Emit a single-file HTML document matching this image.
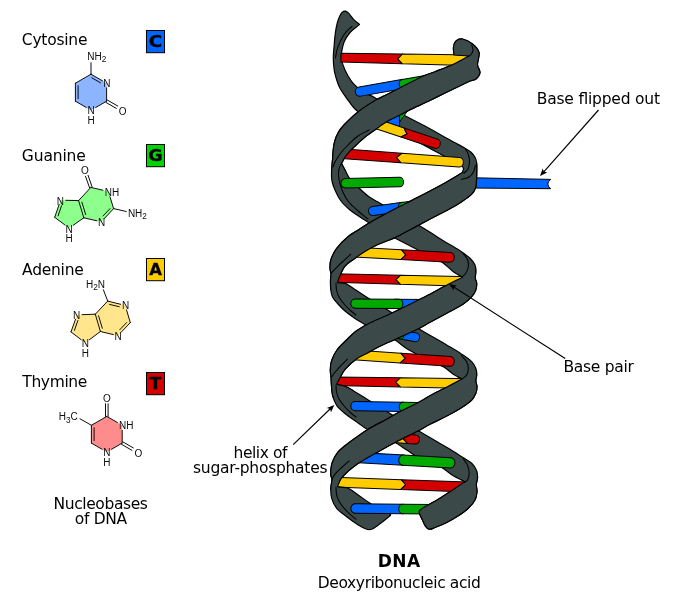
<!DOCTYPE html>
<html><head><meta charset="utf-8"><title>DNA</title><style>html,body{margin:0;padding:0;background:#fff}svg{display:block}</style></head><body>
<div style="will-change:transform;width:683px;height:599px">
<svg width="683" height="599" viewBox="0 0 683 599">
<defs>
<clipPath id="cA"><polygon points="320,0 500,0 500,100 345,172 320,172"/><polygon points="490,262 466,272 455,276 400,300 360,322 330,350 320,355 320,398 345,398 400,350 490,310"/><polygon points="490,470 465,477 440,492 410,505 410,540 490,540"/></clipPath>
<clipPath id="cB"><polygon points="490,155 478,160 465,170 455,172 400,198 350,230 320,255 320,290 345,290 356,268 400,241 440,218 490,200"/><polygon points="490,365 468,373 455,378 400,405 350,434 320,455 320,490 343,490 350,478 400,445 440,424 490,408"/></clipPath>
<path id="sA" d="M469 56C463.2 59 457.6 62.3 451.7 65C446.3 67.5 440.6 69.5 435 71.7C430.6 73.4 426 74.7 421.7 76.7C415.2 79.7 408.9 83.2 402.5 86.5C397.7 89 392.8 91.5 388 94C383.7 96.2 379.2 98 375 100.5C369.3 103.9 363.5 107.6 358.3 111.7C353.2 115.7 348.5 120.3 344 125C341.7 127.4 339.6 130.1 338 133C336.4 135.8 335.3 138.9 334.5 142C333.6 145.2 333.4 148.7 333 152C332.7 154.3 332.8 156.7 332.6 159C332.4 161 332.1 163 332 165C331.8 168.3 331.5 171.7 331.5 175C331.5 177.3 331.7 179.7 332.2 182C332.8 184.7 333.8 187.4 335 190C336.7 193.8 338.5 197.7 341 201C343.5 204.4 346.8 207.3 350 210C353.1 212.6 356.6 214.7 360 217C362.3 218.6 364.7 220 367 221.5C371.3 224.3 375.6 227.3 380 230C384.3 232.6 388.8 234.9 393.3 237.3C396.8 239.2 400.4 241 404 242.8C408.7 245.2 413.4 247.6 418 250C422 252.1 425.9 254.4 430 256.5C434.1 258.6 438.7 260 442.5 262.5C446.4 265.1 449.5 268.9 453.3 271.7C455.9 273.6 459 274.9 461.7 276.7C462 276.9 462.1 277.2 462.3 277.5C457.6 279.7 452.9 281.8 448.3 284.2C442.1 287.4 436.1 291 430 294.2C426.1 296.2 422.2 298.1 418.3 300C412.8 302.8 407.3 305.6 401.7 308.3C396.7 310.7 391.7 313.2 386.7 315.5C382.8 317.3 378.9 318.7 375 320.5C372 321.9 368.9 323.3 366 325C362.2 327.2 358.4 329.4 355 332C351.9 334.4 349.3 337.2 346.5 340C343.3 343.2 339.6 346.3 337 350C334.6 353.3 332.8 357.2 331.5 361C330.6 363.8 330.4 367 330.3 370C330.2 372.3 330.8 374.7 331 377C331.2 379.1 331.1 381.2 331.3 383.3C331.6 387.2 331.6 391.2 332.5 395C333.4 398.6 334.6 402.4 336.7 405.5C338.8 408.6 342 411.1 345 413.5C348.5 416.4 352.3 418.9 356 421.5C360.1 424.4 364.1 427.3 368.3 430C372.1 432.5 375.9 435.1 380 437C384.8 439.2 390.2 440.2 395 442.5C399.1 444.5 402.8 447.5 406.7 450C410.6 452.5 414.3 455.3 418.3 457.5C422 459.5 426.1 460.8 430 462.5C433.9 464.2 438 465.4 441.7 467.5C445.8 469.8 449.3 473.3 453.3 475.8C456.5 477.7 460 479.1 463.3 480.8C463.9 481.1 464.4 481.4 465 481.7C463.3 482.8 461.7 483.9 460 485C456.7 487.2 453.4 489.5 450 491.7C446.1 494.2 442.3 496.8 438.3 499.2C434.5 501.5 430.5 503.5 426.7 505.8C424.4 507.1 421.9 508.3 420 510C419.4 510.6 419 511.7 419.2 512.5C419.8 515 421.3 517.5 422.5 520C423.5 522.3 424.4 524.7 425.8 526.7C426.6 527.8 427.9 529.1 429.2 529.2C431 529.4 433.1 528.2 435 527.5C439 526 442.9 524.4 446.7 522.5C450.7 520.5 454.6 518.2 458.3 515.8C461.8 513.5 465.3 511.1 468.3 508.3C470.9 505.9 473.4 503.1 475 500C476.3 497.5 476.8 494.5 477 491.7C477.2 489.2 476.2 486.7 476.3 484.2C476.4 482.2 477.4 480.3 477.5 478.3C477.6 475.8 477.6 473.1 476.7 470.8C475.6 468.1 473.8 465.3 471.7 463.3C468.8 460.6 465.1 458.9 461.7 456.7C457.3 453.9 452.8 451 448.3 448.3C443.9 445.6 439.4 443.1 435 440.5C429.4 437.3 423.8 434.1 418.3 430.8C407.7 424.4 397.2 418 386.7 411.5C380 407.4 373.4 403.1 366.7 399C360.1 394.9 353.5 390.7 346.7 387C345 386.1 342.9 385.7 341 385.2C339.6 384.8 338.1 384.5 336.7 384.2C337.5 382.5 338.3 380.8 339.2 379.2C341.1 375.9 342.5 372.2 345 369.3C348.4 365.4 352.5 361.9 356.7 358.8C359.7 356.6 363.4 355.3 366.7 353.5C370.6 351.4 374.3 349 378.3 347C383.8 344.3 389.4 342 395 339.5C402.8 336 410.6 332.6 418.3 328.8C422.3 326.8 426.1 324.4 430 322.3C435.6 319.3 441.2 316.3 446.7 313.3C452.3 310.2 458 307.5 463.3 304C466.4 302 469.3 299.4 471.7 296.7C473.4 294.8 474.9 292.4 475.8 290C476.6 287.9 476.8 285.5 476.7 283.3C476.6 281.6 475.4 280 475.3 278.3C475.1 276.1 475.8 273.9 475.8 271.7C475.7 269.5 475.9 267 475 265C473.9 262.5 472 260.2 470 258.3C467 255.5 463.5 253.1 460 250.8C454.6 247.2 448.8 244.2 443.3 240.8C439.4 238.4 435.6 235.8 431.7 233.3C427.3 230.5 422.8 227.7 418.3 225C411.6 221.1 404.8 217.3 398 213.5C393.3 210.8 388.7 208.2 384 205.5C381.7 204.2 379.3 202.9 377 201.5C374 199.7 370.8 198.1 368 196C364.8 193.6 361.9 190.8 359 188C355.9 185.1 352.6 182.3 350 179C347.9 176.3 346.7 173 345 170C343.8 167.8 342.7 165.7 341.5 163.5C342.7 161.3 343.6 159 345 157C346.5 154.9 348.3 152.9 350 151C351.3 149.6 352.6 148.3 354 147C357.6 143.6 361.1 140.1 365 137C369.5 133.4 374.3 130.3 379 127C382.1 124.9 385.1 122.6 388.3 120.8C392.1 118.6 396.1 117 400 115C403.9 113 407.7 110.8 411.7 108.9C417.2 106.2 422.8 103.8 428.3 101.2C433.9 98.5 439.4 95.7 445 93C450.6 90.3 456.1 87.7 461.7 85C464.5 83.7 467.2 82.2 470 81C471.9 80.2 474.5 80.3 476 79C477.8 77.5 479.8 74.8 480 72.5C480.3 70.1 477.6 67.6 477.5 65C477.3 60.9 479.9 56.3 479 52.5C478.2 49.3 475.2 46.2 472.5 44C469.7 41.7 465.9 39.6 462.5 39C460.4 38.6 457.5 39.6 456 41C454.5 42.3 453.8 44.9 453.5 47C453.1 49.6 453.8 52.3 454 55L469 56Z"/>
<path id="sB" d="M359.5 24.5C357.5 22.8 355.3 21.2 353.5 19.3C351.9 17.6 350.8 15.5 349.2 13.8C348.2 12.7 346.9 11.4 345.6 11.1C344.6 10.9 343 11.5 342.2 12.3C341 13.3 340.3 15 339.6 16.5C338.7 18.4 337.9 20.4 337.4 22.5C336.5 26 335.8 29.7 335.3 33.3C334.7 37.2 334.5 41.1 334.2 45C333.8 49.4 333.3 53.9 333.3 58.3C333.3 62.2 333.6 66.1 334.2 70C334.7 73.4 335.7 76.7 336.7 80C337.6 82.8 338.6 85.7 340 88.3C341.9 91.8 344.3 95.1 346.7 98.3C349.7 102.3 352.2 106.8 356 110C361.7 114.7 368.5 118.4 375 122C380.5 125 386.3 127.5 392 130C396.8 132.1 401.9 133.7 406.7 136C413.5 139.3 420 143.1 426.7 146.7C430 148.5 433.4 150.2 436.7 152C441.8 154.8 446.9 157.7 452 160.5C455 162.1 458.3 163.1 461 165C462.1 165.8 463.2 167.2 463.5 168.5C463.7 169.7 462.8 171.2 462.5 172.5C457.2 175.7 452 179 446.7 182C441.2 185.1 435.6 188.1 430 191C424.5 193.9 418.9 196.8 413.3 199.6C408.9 201.9 404.4 204 400 206.3C395.6 208.6 391.1 210.8 386.7 213.2C381.7 215.9 376.6 218.6 371.7 221.5C367.1 224.2 362.8 227.1 358.3 230C355 232.1 351.3 233.9 348.3 236.5C344.1 240 340 243.9 336.7 248.3C334.1 251.8 332.2 255.9 330.8 260C329.9 262.6 330 265.5 330 268.3C330 270.2 330.9 272.1 331 274C331.1 276 330.5 278 330.5 280C330.5 283.3 330.4 286.7 330.8 290C331.1 292.4 331.4 294.9 332.5 297C333.8 299.6 336 301.8 338 304C340.2 306.5 342.5 308.9 345 311C348.2 313.7 351.5 316.2 355 318.5C358.5 320.9 362.3 322.9 366 325C370.6 327.7 375.2 330.5 380 333C384.9 335.5 390.3 337.2 395 340C398.6 342.1 401.5 345.2 405 347.5C408.8 350 412.7 352.1 416.7 354.2C421.1 356.6 425.5 358.9 430 361C434.4 363.1 439.1 364.3 443.3 366.7C446.9 368.7 449.8 371.9 453.3 374.2C456 375.9 458.9 377.3 461.7 378.7C461.9 378.8 462.2 378.7 462.5 378.7C456.7 381.8 450.8 384.9 445 388C440 390.6 435 393.1 430 395.8C426.1 397.9 422.3 400.4 418.3 402.5C412.8 405.4 407.2 407.9 401.7 410.8C396.6 413.5 391.7 416.4 386.7 419.2C380.6 422.6 374.3 425.6 368.3 429.2C363.7 432 359.4 435.2 355 438.3C351.6 440.7 348.2 443.2 345 445.8C342.7 447.7 340.1 449.4 338.3 451.7C335.9 454.7 333.9 458.2 332.5 461.7C331.4 464.3 331.1 467.2 330.8 470C330.6 472 330.7 474 331 476C331.1 477.1 332 478.1 332 479.2C332 482.2 330.8 485.3 330.8 488.3C330.7 491.6 330.8 495.1 331.7 498.3C332.7 501.8 334.4 505.5 336.7 508.3C339.4 511.6 343.3 514 346.7 516.7C350.5 519.6 354.3 522.5 358.3 525C360.9 526.7 363.8 528.3 366.7 529.2C368.3 529.7 370.2 529.7 371.7 529.2C374.1 528.3 376.2 526.5 378.3 525C382.3 522.1 386.3 519 390 515.8C390.4 515.4 390.7 514.6 390.5 514.2C390.3 513.8 389.5 513.6 389 513.3C386 511.9 382.9 510.5 380 509C376.6 507.2 373.2 505.4 370 503.3C366 500.7 362.2 497.7 358.3 495C355 492.7 351.9 489.9 348.3 488.3C346.1 487.3 343.4 487.6 341 487.2C339.8 487 338.7 486.9 337.5 486.7C338.6 484.2 339.3 481.5 340.8 479.2C342.4 476.7 344.5 474.5 346.7 472.5C350.3 469.2 354.3 466.2 358.3 463.3C361 461.4 363.9 459.9 366.7 458.3C370.5 456.1 374.4 453.9 378.3 451.7C383.8 448.6 389.4 445.4 395 442.5C402.7 438.5 410.6 434.8 418.3 430.8C422.3 428.7 426 426.4 430 424.3C435.5 421.4 441.2 418.9 446.7 416C451.8 413.3 456.9 410.6 461.7 407.5C465.2 405.3 468.8 402.9 471.7 400C473.5 398.2 474.8 395.7 475.8 393.3C476.6 391.3 477 388.9 477 386.7C477 384.7 475.9 382.8 475.8 380.8C475.8 378.9 476.7 376.9 476.7 375C476.7 372.8 476.6 370.4 475.8 368.3C474.9 365.9 473.5 363.5 471.7 361.7C468.8 358.8 465.2 356.5 461.7 354.2C456.8 350.9 451.7 348 446.7 345C444.5 343.6 442.2 342.3 440 341C433.3 337.1 426.6 333.4 420 329.5C410 323.6 400 317.5 390 311.5C382.6 307 375.3 302.6 368 298C363.6 295.2 359.4 292.3 355 289.5C351.9 287.5 348.8 285 345.5 283.5C344.2 282.9 342.5 283.2 341 283C339.8 282.9 338.7 282.7 337.5 282.5C338.1 280.8 338.5 279.1 339.2 277.5C341 273.6 342.3 269.2 345 266C347.6 262.8 351.6 260.8 355 258.3C358.3 255.9 361.5 253.6 365 251.5C369.3 248.9 373.7 246.4 378.3 244.3C383.7 241.8 389.6 240.1 395 237.6C400.7 234.9 406.1 231.6 411.7 228.7C417.2 225.8 422.8 222.9 428.3 220C434.4 216.8 440.6 213.8 446.7 210.5C451.8 207.7 456.9 204.9 461.7 201.7C465.2 199.4 468.8 197.1 471.7 194.2C473.4 192.5 474.7 190.2 475.5 188C476.3 185.5 476.3 182.7 476.5 180C476.7 176.7 476.8 173.3 476.8 170C476.8 167.3 476.9 164.6 476.5 162C476.3 160.4 475.8 158.6 475 157.2C474 155.4 472.6 153.6 471 152.2C469.2 150.6 467.1 149.4 465 148.2C461.7 146.3 458.3 144.5 455 142.7C452.2 141.2 449.4 139.8 446.7 138.3C441.7 135.5 436.7 132.5 431.7 129.7C427.2 127.2 422.6 124.9 418 122.5C413.8 120.3 409.7 118.2 405.5 116C401 113.7 396.5 111.3 392 109C385.8 104.9 379.7 100.4 373.3 96.7C370.7 95.2 367.6 94.7 365 93.3C362.6 91.9 360.4 90.1 358.3 88.3C356 86.3 353.5 84.2 351.7 81.7C349.1 78.1 346.8 74.1 345 70C343.3 66.2 341.9 62.1 341.2 58C340.8 56 341.3 53.8 341.7 51.7C342.3 48.3 342.9 44.8 344.2 41.7C345.6 38.4 347.7 35.3 350 32.5C351.9 30.3 354.4 28.6 356.7 26.7C357.6 25.9 358.6 25.2 359.5 24.5Z"/>
</defs>
<rect width="683" height="599" fill="#fff"/>
<path d="M470 177.7L550.6 179.4Q545 184 550.6 188.7L470 188Z" fill="#0066ff" stroke="#000" stroke-width="1"/>
<g fill="#3b4a48" stroke="#000" stroke-width="1.2" stroke-linejoin="round">
<use href="#sA"/><use href="#sB"/>
</g>
<g stroke="#000" stroke-width="1" stroke-linejoin="round">
<path d="M387 127L387 121L399.6 114.5L399.6 127Z" fill="#0066ff"/><path d="M399.6 112L407.8 110.5L400.3 121L399.6 122.5Z" fill="#00aa00"/>
<g transform="translate(341 57.6) rotate(1.2)"><path d="M0 4.4 L0 -4.4L61.5 -4.9 L56.8 0 L61.5 4.9 Z" fill="#d40000"/><path d="M61.5 4.9 L56.8 0 L61.5 -4.9L134 -5.4 L134 5.4 Z" fill="#ffcc00"/></g>
<g transform="translate(355.3 92.4) rotate(-10)"><path d="M4.6 4.6 A4.6 4.6 0 0 1 4.6 -4.6L49.2 -4.6 L49.2 4.6 Z" fill="#0066ff"/><path d="M48.5 4.6 A3.9 4.6 0 0 1 48.5 -4.6L86 -4.6 L86 4.6 Z" fill="#00aa00"/></g>
<g transform="translate(370 121.6) rotate(18.5)"><path d="M0 4.8 L0 -4.8L34.3 -4.8 L39 0 L34.3 4.8 Z" fill="#ffcc00"/><path d="M34.3 4.8 L39 0 L34.3 -4.8L69.8 -4.8 A4 4.8 0 0 1 69.8 4.8 Z" fill="#d40000"/></g>
<g transform="translate(338 153.4) rotate(4.2)"><path d="M0 4.8 L0 -4.8L63.6 -4.8 L58.9 0 L63.6 4.8 Z" fill="#d40000"/><path d="M63.6 4.8 L58.9 0 L63.6 -4.8L121.6 -4.8 A4.1 4.8 0 0 1 121.6 4.8 Z" fill="#ffcc00"/></g>
<g transform="translate(340.8 183.4) rotate(-1.3)"><path d="M4.7 4.7 A4.7 4.7 0 0 1 4.7 -4.7L58.8 -4.7 A4 4.7 0 0 1 58.8 4.7 Z" fill="#00aa00"/></g>
<g transform="translate(368.5 211.6) rotate(-7.9)"><path d="M4.5 4.5 A4.5 4.5 0 0 1 4.5 -4.5L34.8 -4.5 L34.8 4.5 Z" fill="#0066ff"/><path d="M34.1 4.5 A3.8 4.5 0 0 1 34.1 -4.5L57 -4.5 L57 4.5 Z" fill="#00aa00"/></g>
<g transform="translate(350 251.9) rotate(3.1)"><path d="M0 4.9 L0 -4.9L51.2 -4.9 L55.9 0 L51.2 4.9 Z" fill="#ffcc00"/><path d="M51.2 4.9 L55.9 0 L51.2 -4.9L100.2 -4.9 A4.2 4.9 0 0 1 100.2 4.9 Z" fill="#d40000"/></g>
<g transform="translate(334 278) rotate(1.5)"><path d="M0 4.3 L0 -4.3L66.7 -4.6 L62 0 L66.7 4.6 Z" fill="#d40000"/><path d="M66.7 4.6 L62 0 L66.7 -4.6L138 -4.8 L138 4.8 Z" fill="#ffcc00"/></g>
<g transform="translate(350.8 303.5) rotate(0.5)"><path d="M43.6 4.6 L43.6 -4.6L79.2 -4.6 L79.2 4.6 Z" fill="#0066ff"/><path d="M4.6 4.6 A4.6 4.6 0 0 1 4.6 -4.6L48.2 -4.6 A3.9 4.6 0 0 1 48.2 4.6 Z" fill="#00aa00"/></g>
<g transform="translate(388 332.3) rotate(10.3)"><path d="M8.3 4.4 L8.3 -4.4L28.3 -4.4 A3.7 4.4 0 0 1 28.3 4.4 Z" fill="#0066ff"/><path d="M0 4.4 L0 -4.4L12.7 -4.4 A3.7 4.4 0 0 1 12.7 4.4 Z" fill="#00aa00"/></g>
<g transform="translate(350 354.6) rotate(3.9)"><path d="M0 4.9 L0 -4.9L50.7 -4.9 L55.4 0 L50.7 4.9 Z" fill="#ffcc00"/><path d="M50.7 4.9 L55.4 0 L50.7 -4.9L100.3 -4.9 A4.2 4.9 0 0 1 100.3 4.9 Z" fill="#d40000"/></g>
<g transform="translate(334 381.2) rotate(1)"><path d="M0 4.3 L0 -4.3L66.5 -4.6 L61.8 0 L66.5 4.6 Z" fill="#d40000"/><path d="M66.5 4.6 L61.8 0 L66.5 -4.6L138 -4.8 L138 4.8 Z" fill="#ffcc00"/></g>
<g transform="translate(350.8 406) rotate(0.9)"><path d="M4.6 4.6 A4.6 4.6 0 0 1 4.6 -4.6L53 -4.6 L53 4.6 Z" fill="#0066ff"/><path d="M52.3 4.6 A3.9 4.6 0 0 1 52.3 -4.6L79.2 -4.6 L79.2 4.6 Z" fill="#00aa00"/></g>
<g transform="translate(388 437.4) rotate(4.5)"><path d="M0 4.5 L0 -4.5L19.8 -4.5 L15.1 0 L19.8 4.5 Z" fill="#ffcc00"/><path d="M19.8 4.5 L15.1 0 L19.8 -4.5L27.8 -4.5 A3.8 4.5 0 0 1 27.8 4.5 Z" fill="#d40000"/></g>
<g transform="translate(350 457.2) rotate(3.2)"><path d="M0 5.1 L0 -5.1L53.9 -5.1 L53.9 5.1 Z" fill="#0066ff"/><path d="M53.1 5.1 A4.3 5.1 0 0 1 53.1 -5.1L100.8 -5.1 A4.3 5.1 0 0 1 100.8 5.1 Z" fill="#00aa00"/></g>
<g transform="translate(334 482.1) rotate(2.1)"><path d="M0 4.9 L0 -4.9L67.1 -4.9 L71.8 0 L67.1 4.9 Z" fill="#ffcc00"/><path d="M67.1 4.9 L71.8 0 L67.1 -4.9L141.1 -4.9 L141.1 4.9 Z" fill="#d40000"/></g>
<g transform="translate(350.8 508.5) rotate(0.5)"><path d="M4.7 4.7 A4.7 4.7 0 0 1 4.7 -4.7L52.6 -4.7 L52.6 4.7 Z" fill="#0066ff"/><path d="M51.9 4.7 A4 4.7 0 0 1 51.9 -4.7L84.2 -4.7 L84.2 4.7 Z" fill="#00aa00"/></g>
</g>
<g fill="#3b4a48" stroke="#000" stroke-width="1.2" stroke-linejoin="round">
<use href="#sA" clip-path="url(#cA)"/><use href="#sB" clip-path="url(#cB)"/>
</g>
<g fill="none" stroke="#000" stroke-width="1.05" stroke-linecap="round">
<path d="M352 26.5C349.8 28.5 347.3 30.2 345.5 32.5C343.5 35 341.9 38.1 340.5 41C339.1 43.9 337.9 46.9 337 50C336.2 52.6 336 55.3 335.5 58"/>
<path d="M369 130C365.3 132 361.4 133.6 358 136C354.4 138.6 351.2 141.8 348 145C345.2 147.8 342.4 150.8 340 154C338.1 156.5 336.5 159.2 335 162C334.2 163.6 333.7 165.3 333 167"/>
<path d="M341.5 163.5C340.7 165.3 339.5 167.1 339 169C338.5 170.9 338.4 173 338.5 175C338.6 177.3 339 179.7 339.5 182C340.1 184.7 340.9 187.5 342 190C343.7 193.8 345.5 197.7 348 201C350.5 204.4 353.9 207.2 357 210C360.5 213.2 364.3 216 368 219"/>
<path d="M465.5 149C466.5 151 467.9 152.9 468.5 155C469.2 157.2 469.6 159.7 469.5 162C469.4 164.3 469 167 468 169C467.1 170.7 465.2 171.9 463.8 173.3"/>
<path d="M475.3 165.5C474.7 167.7 474.6 170.1 473.5 172C472.5 173.9 470.8 175.9 469 177C466.8 178.4 464 178.7 461.5 179.5"/>
<path d="M350.8 254.2C347.8 257 344.7 259.7 341.7 262.5C339.4 264.7 337.2 267 335 269.2C333.8 270.5 332.5 271.7 331.3 273"/>
<path d="M336 283C336.2 285.3 336 287.7 336.5 290C337 292.4 337.8 294.9 339 297C340.6 299.9 342.8 302.5 345 305C346.8 307.1 348.9 309.1 351 311C352.6 312.4 354.3 313.7 356 315"/>
<path d="M463.2 253.6C464.6 255.6 466.6 257.3 467.5 259.5C468.3 261.7 468.6 264.4 468.3 266.7C468 269 467 271.3 465.8 273.3C464.8 274.9 463.1 276.1 461.7 277.5"/>
<path d="M347.5 359.2C345 361.7 342.4 364.1 340 366.7C338 368.8 336 371 334.2 373.3C333.4 374.4 332.7 375.6 332 376.7"/>
<path d="M336 385C336.2 387.3 336 389.7 336.5 392C337 394.4 337.8 396.9 339 399C340.6 401.9 342.8 404.5 345 407C346.8 409.1 348.9 411.1 351 413C352.6 414.4 354.3 415.7 356 417"/>
<path d="M461.4 355.6C463.2 357.7 465.4 359.5 466.7 361.9C467.7 363.8 468.3 366.2 468.3 368.3C468.3 370.5 467.8 373.1 466.7 375C465.8 376.6 463.9 377.5 462.5 378.7"/>
<path d="M349.2 460.8C346.7 463 344.1 465.2 341.7 467.5C339.4 469.7 337 471.8 335 474.2C333.8 475.7 333 477.5 332 479.2"/>
<path d="M336 487.2C336.2 489.5 336 491.9 336.5 494.2C337 496.6 337.8 499.1 339 501.2C340.6 504.1 342.8 506.7 345 509.2C346.8 511.3 348.9 513.3 351 515.2C352.6 516.6 354.3 517.9 356 519.2"/>
<path d="M463.2 458.6C464.6 460.8 466.5 462.8 467.5 465.2C468.5 467.7 469.2 470.6 469.2 473.3C469.2 475.5 468.5 478.1 467.5 480C466.9 481.1 465.3 481.7 464.2 482.5"/>
<path d="M471.7 45C472.1 46.7 473 48.4 473 50C473 51.4 472.3 52.9 471.5 54C470.7 55.1 469.2 55.7 468 56.5"/>
</g>
<g style="font-family:'DejaVu Sans','Liberation Sans',sans-serif" fill="#000">
<text x="21.85" y="44.7" font-size="15.5" textLength="65.61" lengthAdjust="spacing">Cytosine</text>
<text x="21.85" y="160.5" font-size="15.5" textLength="63.98" lengthAdjust="spacing">Guanine</text>
<text x="22.05" y="274.7" font-size="15.5" textLength="61.75" lengthAdjust="spacing">Adenine</text>
<text x="22.3" y="386.7" font-size="15.5" textLength="65.08" lengthAdjust="spacing">Thymine</text>
<text x="53.5" y="508.8" font-size="15.5" textLength="94.45" lengthAdjust="spacing">Nucleobases</text>
<text x="74.85" y="523.8" font-size="15.5" textLength="52.27" lengthAdjust="spacing">of DNA</text>
<text x="233.6" y="457.6" font-size="15.5" textLength="53.77" lengthAdjust="spacing">helix of</text>
<text x="193.05" y="473.4" font-size="15.5" textLength="134.5" lengthAdjust="spacing">sugar-phosphates</text>
<text x="536.7" y="103.9" font-size="15.5" textLength="123.36" lengthAdjust="spacing">Base flipped out</text>
<text x="563.4" y="371.5" font-size="15.5" textLength="70.39" lengthAdjust="spacing">Base pair</text>
<text x="317.7" y="587.5" font-size="15.5" textLength="163.17" lengthAdjust="spacing">Deoxyribonucleic acid</text>
<text x="377.8" y="567.0" font-size="17" font-weight="bold" textLength="42.3" lengthAdjust="spacing">DNA</text>
</g>
<path d="M598.5 110 L542 173.8" stroke="#000" stroke-width="1.15" fill="none"/><path d="M540 176 L542.7 168.4 L543.9 171.6 L547.2 172.4 Z" fill="#000"/>
<path d="M565.2 358.5 L451.5 285.6" stroke="#000" stroke-width="1.15" fill="none"/><path d="M449 284 L456.9 285.5 L453.9 287.2 L453.7 290.6 Z" fill="#000"/>
<path d="M293.2 444.7 L332.1 407" stroke="#000" stroke-width="1.15" fill="none"/><path d="M334.3 404.9 L331 412.3 L330.1 409 L326.8 408 Z" fill="#000"/>
<rect x="146.5" y="30.5" width="18" height="22.2" fill="#0066ff" stroke="#000" stroke-width="1"/>
<text transform="translate(155.5 47.2) scale(1.12 1)" x="0" y="0" text-anchor="middle" style="font-family:'DejaVu Sans','Liberation Sans',sans-serif" font-size="16.4" font-weight="bold" fill="#000" stroke="#000" stroke-width="0.3">C</text>
<rect x="146.5" y="144.5" width="18" height="22.2" fill="#00d400" stroke="#000" stroke-width="1"/>
<text transform="translate(155.5 161.2) scale(1.07 1)" x="0" y="0" text-anchor="middle" style="font-family:'DejaVu Sans','Liberation Sans',sans-serif" font-size="16.4" font-weight="bold" fill="#000" stroke="#000" stroke-width="0.3">G</text>
<rect x="146.5" y="258.5" width="18" height="22.2" fill="#ffcc00" stroke="#000" stroke-width="1"/>
<text transform="translate(155.5 275.2) scale(1.0 1)" x="0" y="0" text-anchor="middle" style="font-family:'DejaVu Sans','Liberation Sans',sans-serif" font-size="16.4" font-weight="bold" fill="#000" stroke="#000" stroke-width="0.3">A</text>
<rect x="146.5" y="372.5" width="18" height="22.2" fill="#d40000" stroke="#000" stroke-width="1"/>
<text transform="translate(155.5 389.2) scale(1.02 1)" x="0" y="0" text-anchor="middle" style="font-family:'DejaVu Sans','Liberation Sans',sans-serif" font-size="16.4" font-weight="bold" fill="#000" stroke="#000" stroke-width="0.3">T</text>
<polygon points="91,74.2 106.6,83.2 106.6,101.2 91,110.2 75.4,101.2 75.4,83.2" fill="#8cb4ff"/>
<g stroke="#0d0d0d" stroke-width="1" fill="none" stroke-linecap="round"><path d="M91 74.2 L102.6 80.9"/><path d="M106.6 87.8 L106.6 101.2"/><path d="M106.6 101.2 L95.7 107.5"/><path d="M86.3 107.5 L75.4 101.2"/><path d="M75.4 101.2 L75.4 83.2"/><path d="M75.4 83.2 L91 74.2"/><path d="M78.1 98.7 L78.1 85.7"/><path d="M91.8 77.8 L100.5 82.8"/><path d="M91 74.2 L91 62.7"/><path d="M105.9 102.4 L116.3 108.4"/><path d="M107.3 100 L117.7 106"/></g>
<g style="font-family:'Liberation Sans',sans-serif" font-size="10" fill="#0d0d0d"><text x="87.3" y="59.6" text-anchor="start">NH<tspan font-size="8.2" dy="2.6">2</tspan></text><text x="106.9" y="87.1" text-anchor="middle">N</text><text x="91" y="114.4" text-anchor="middle">N</text><text x="91" y="124.1" text-anchor="middle">H</text><text x="122.6" y="114.6" text-anchor="middle">O</text></g>
<polygon points="90.8,187.4 108.4,191.4 113.6,208.6 101.4,221.8 83.8,217.8 69.1,228.1 54.7,217.3 60.6,200.2 78.6,200.6" fill="#8cff8c"/>
<g stroke="#0d0d0d" stroke-width="1" fill="none" stroke-linecap="round"><path d="M90.8 187.4 L102.9 190.2"/><path d="M110 196.8 L113.6 208.6"/><path d="M113.6 208.6 L104.5 218.4"/><path d="M96.9 220.8 L83.8 217.8"/><path d="M110 208.6 L103.1 215.9"/><path d="M83.8 217.8 L78.6 200.6"/><path d="M78.6 200.6 L90.8 187.4"/><path d="M85.7 214.6 L81.9 202.2"/><path d="M78.6 200.6 L65.7 200.3"/><path d="M59.1 204.6 L54.7 217.3"/><path d="M54.7 217.3 L65 225"/><path d="M73.3 225.2 L83.8 217.8"/><path d="M61.5 205.8 L58.1 215.8"/><path d="M92.1 186.9 L88.1 175.4"/><path d="M89.6 187.8 L85.5 176.3"/><path d="M113.6 208.6 L126.3 211.5"/></g>
<g style="font-family:'Liberation Sans',sans-serif" font-size="10" fill="#0d0d0d"><text x="84.9" y="174.1" text-anchor="middle">O</text><text x="104.8" y="195.5" text-anchor="start">NH</text><text x="127.9" y="216.7" text-anchor="start">NH<tspan font-size="8.2" dy="2.6">2</tspan></text><text x="101.6" y="225.6" text-anchor="middle">N</text><text x="60.3" y="204.8" text-anchor="middle">N</text><text x="69.1" y="232.8" text-anchor="middle">N</text><text x="69.1" y="242.4" text-anchor="middle">H</text></g>
<polygon points="107.7,301.1 125.2,305.3 130.3,322.6 117.9,335.7 100.4,331.5 85.3,342.9 71,331.9 77,314.9 95.3,314.2" fill="#ffe68c"/>
<g stroke="#0d0d0d" stroke-width="1" fill="none" stroke-linecap="round"><path d="M107.7 301.1 L120.7 304.3"/><path d="M126.5 309.8 L130.3 322.6"/><path d="M130.3 322.6 L121.1 332.3"/><path d="M113.4 334.6 L100.4 331.5"/><path d="M109.5 304.4 L119.2 306.7"/><path d="M126.6 322.6 L119.7 329.8"/><path d="M100.4 331.5 L95.3 314.2"/><path d="M95.3 314.2 L107.7 301.1"/><path d="M102.3 328.3 L98.6 315.8"/><path d="M95.3 314.2 L82.1 314.7"/><path d="M75.5 319.3 L71 331.9"/><path d="M71 331.9 L81.2 339.7"/><path d="M89.3 339.8 L100.4 331.5"/><path d="M77.9 320.5 L74.4 330.4"/><path d="M107.7 301.1 L103.4 289.8"/></g>
<g style="font-family:'Liberation Sans',sans-serif" font-size="10" fill="#0d0d0d"><text x="86" y="287.8" text-anchor="start">H<tspan font-size="8.2" dy="2.6">2</tspan><tspan dy="-2.6">N</tspan></text><text x="125.5" y="309.1" text-anchor="middle">N</text><text x="118.1" y="339.5" text-anchor="middle">N</text><text x="76.7" y="318.8" text-anchor="middle">N</text><text x="85.3" y="347" text-anchor="middle">N</text><text x="85.3" y="356.6" text-anchor="middle">H</text></g>
<polygon points="106.8,416.4 122.2,425.3 122.2,443.1 106.8,452 91.4,443.1 91.4,425.3" fill="#ff8c8c"/>
<g stroke="#0d0d0d" stroke-width="1" fill="none" stroke-linecap="round"><path d="M106.8 416.4 L117.4 422.5"/><path d="M122.2 430.4 L122.2 443.1"/><path d="M122.2 443.1 L111.5 449.3"/><path d="M102.1 449.3 L91.4 443.1"/><path d="M91.4 443.1 L91.4 425.3"/><path d="M91.4 425.3 L106.8 416.4"/><path d="M94.1 440.6 L94.1 427.8"/><path d="M108.1 416.4 L108.1 403.8"/><path d="M105.5 416.4 L105.5 403.8"/><path d="M121.5 444.3 L131.9 450.3"/><path d="M122.9 441.9 L133.3 447.9"/><path d="M91.4 425.3 L80 418.8"/></g>
<g style="font-family:'Liberation Sans',sans-serif" font-size="10" fill="#0d0d0d"><text x="106.8" y="401.8" text-anchor="middle">O</text><text x="58.7" y="420.3" text-anchor="start">H<tspan font-size="8.2" dy="2.6">3</tspan><tspan dy="-2.6">C</tspan></text><text x="119.1" y="429.3" text-anchor="start">NH</text><text x="138.3" y="456.5" text-anchor="middle">O</text><text x="106.8" y="456.4" text-anchor="middle">N</text><text x="106.8" y="466" text-anchor="middle">H</text></g>
</svg>
</div>
</body></html>
